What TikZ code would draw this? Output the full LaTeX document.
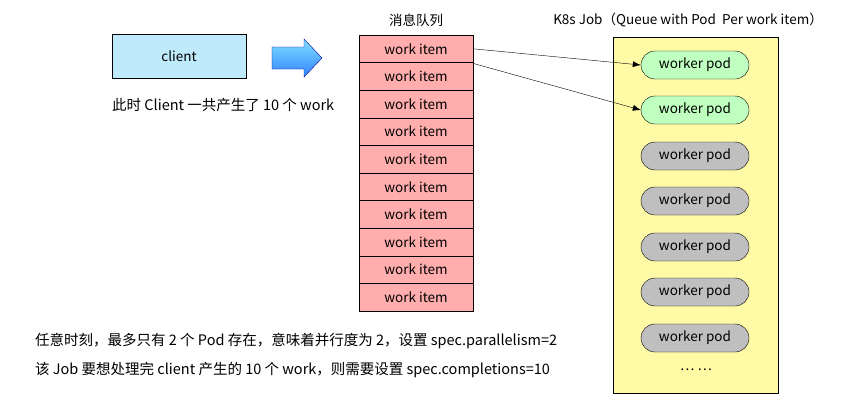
\documentclass[tikz,border=0pt]{standalone}
\usepackage{fontspec}
\setmainfont{Liberation Sans}
\newfontfamily\cjk{Noto Sans CJK SC}
\usetikzlibrary{arrows.meta}
\begin{document}
\begin{tikzpicture}[x=1pt,y=-1pt,font=\fontsize{13.5}{15}\selectfont\cjk,
 note/.style={anchor=west,inner sep=0pt,font=\fontsize{14.5}{16}\selectfont\cjk},
 item/.style={draw,fill=red!32,minimum width=114pt,minimum height=27.6pt,inner sep=0pt},
 pod/.style={draw,rounded corners=14pt,minimum width=108pt,minimum height=28pt,inner sep=0pt},
 act/.style={pod,fill=green!25},
 idle/.style={pod,fill=black!25},
 link/.style={-{Latex[length=8pt,width=6pt]}}]
\useasboundingbox (0,0) rectangle (844,402);
\node[draw,fill=cyan!25,minimum width=134pt,minimum height=44pt] (client) at (179,56) {client};
\coordinate (arr) at (272,58);
\draw[draw=blue!60!black,top color=blue!25!cyan!50,bottom color=blue!60!cyan!80]
 (arr) ++(0,-11) -- ++(32,0) -- ++(0,-8) -- ++(18,19) -- ++(-18,19) -- ++(0,-8) -- ++(-32,0) -- cycle;
\node (title) at (416,20) {消息队列};
\foreach \i in {1,...,10}{\node[item] (w\i) at (416,{35+13.8+(\i-1)*27.6}) {work item};}
\node[draw,fill=yellow!35,minimum width=165pt,minimum height=356pt,inner sep=0pt] (job) at (695.5,215) {};
\node (jobt) at (688,20) {K8s Job（Queue with Pod \ Per work item）};
\node[act] (p1) at (695,65) {worker pod};
\node[act] (p2) at (695,110) {worker pod};
\foreach \i/\y in {3/156,4/201,5/247,6/292,7/338}{\node[idle] (p\i) at (695,\y) {worker pod};}
\node (dots) at (696,370) {… …};
\draw[link] (w1.east) -- (p1.west);
\draw[link] (w2.north east) ++(0,1) coordinate (s2) -- (p2.west);
\node[note] (t1) at (112,105) {此时 Client 一共产生了 10 个 work};
\node[note] (t2) at (35,341) {任意时刻，最多只有 2 个 Pod 存在，意味着并行度为 2，设置 spec.parallelism=2};
\node[note] (t3) at (35,370) {该 Job 要想处理完 client 产生的 10 个 work，则需要设置 spec.completions=10};
\end{tikzpicture}
\end{document}
